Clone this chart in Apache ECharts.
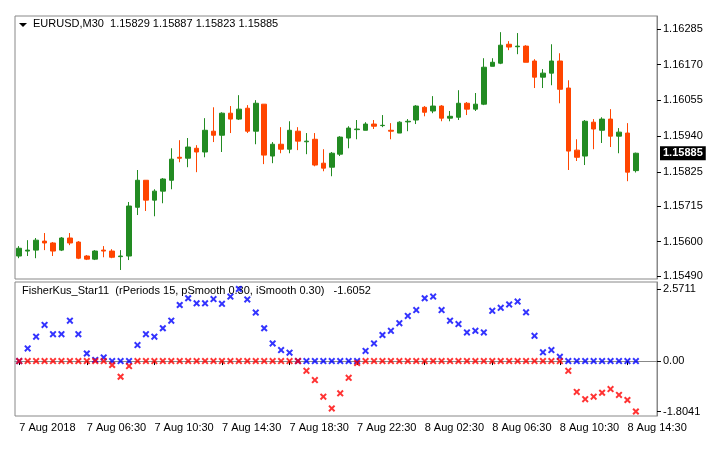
<!DOCTYPE html>
<html>
<head>
<meta charset="utf-8">
<script src="https://cdn.jsdelivr.net/npm/echarts@6/dist/echarts.min.js"></script>
<style>
  html, body { margin: 0; padding: 0; background: #fff; }
  #main { width: 720px; height: 454px; }
</style>
</head>
<body>
<div id="main"></div>
<script>
// open, close, low, high
var candles = [
    [1.15554, 1.15579, 1.15547, 1.15586], [1.15570, 1.15573, 1.15554, 1.15605],
    [1.15573, 1.15605, 1.15547, 1.15612], [1.15602, 1.15596, 1.15573, 1.15628],
    [1.15596, 1.15570, 1.15554, 1.15599], [1.15573, 1.15612, 1.15570, 1.15615],
    [1.15612, 1.15596, 1.15589, 1.15628], [1.15599, 1.15547, 1.15544, 1.15602],
    [1.15554, 1.15544, 1.15541, 1.15557], [1.15544, 1.15570, 1.15541, 1.15573],
    [1.15573, 1.15570, 1.15550, 1.15586], [1.15570, 1.15550, 1.15547, 1.15576],
    [1.15552, 1.15554, 1.15509, 1.15573], [1.15554, 1.15715, 1.15541, 1.15728],
    [1.15711, 1.15798, 1.15686, 1.15831], [1.15798, 1.15734, 1.15699, 1.15798],
    [1.15734, 1.15763, 1.15682, 1.15769], [1.15763, 1.15802, 1.15724, 1.15805],
    [1.15798, 1.15866, 1.15769, 1.15901], [1.15872, 1.15869, 1.15856, 1.15927],
    [1.15869, 1.15905, 1.15840, 1.15934], [1.15901, 1.15889, 1.15824, 1.15911],
    [1.15889, 1.15959, 1.15872, 1.15998], [1.15956, 1.15943, 1.15921, 1.16033],
    [1.15943, 1.16014, 1.15889, 1.16017], [1.16014, 1.15995, 1.15950, 1.16037],
    [1.15995, 1.16027, 1.15992, 1.16072], [1.16030, 1.15956, 1.15950, 1.16040],
    [1.15956, 1.16046, 1.15914, 1.16056], [1.16043, 1.15879, 1.15850, 1.16043],
    [1.15876, 1.15914, 1.15853, 1.15921], [1.15914, 1.15898, 1.15885, 1.15969],
    [1.15898, 1.15959, 1.15885, 1.15988], [1.15956, 1.15924, 1.15895, 1.15969],
    [1.15922, 1.15924, 1.15882, 1.15950], [1.15930, 1.15847, 1.15843, 1.15950],
    [1.15853, 1.15837, 1.15827, 1.15898], [1.15840, 1.15885, 1.15811, 1.15889],
    [1.15882, 1.15937, 1.15876, 1.15940], [1.15934, 1.15966, 1.15901, 1.15972],
    [1.15961, 1.15963, 1.15930, 1.15992], [1.15959, 1.15979, 1.15959, 1.15985],
    [1.15979, 1.15972, 1.15963, 1.15992], [1.15974, 1.15975, 1.15969, 1.16008],
    [1.15959, 1.15956, 1.15930, 1.15982], [1.15950, 1.15985, 1.15950, 1.15988],
    [1.15986, 1.15988, 1.15956, 1.15995], [1.15992, 1.16037, 1.15979, 1.16040],
    [1.16033, 1.16017, 1.16004, 1.16037], [1.16021, 1.16037, 1.16014, 1.16069],
    [1.16037, 1.15998, 1.15988, 1.16040], [1.15998, 1.16004, 1.15988, 1.16021],
    [1.16001, 1.16046, 1.15992, 1.16088], [1.16046, 1.16027, 1.16008, 1.16050],
    [1.16027, 1.16043, 1.16021, 1.16079], [1.16043, 1.16162, 1.16040, 1.16191],
    [1.16165, 1.16178, 1.16165, 1.16191], [1.16175, 1.16233, 1.16172, 1.16275],
    [1.16236, 1.16227, 1.16217, 1.16246], [1.16228, 1.16230, 1.16204, 1.16272],
    [1.16230, 1.16178, 1.16178, 1.16233], [1.16182, 1.16130, 1.16095, 1.16188],
    [1.16130, 1.16143, 1.16095, 1.16156], [1.16143, 1.16182, 1.16104, 1.16236],
    [1.16182, 1.16091, 1.16046, 1.16207], [1.16095, 1.15892, 1.15831, 1.16120],
    [1.15895, 1.15872, 1.15860, 1.15930], [1.15876, 1.15988, 1.15847, 1.15992],
    [1.15985, 1.15963, 1.15898, 1.15995], [1.15959, 1.15995, 1.15918, 1.16001],
    [1.15995, 1.15940, 1.15905, 1.16027], [1.15940, 1.15953, 1.15885, 1.15966],
    [1.15950, 1.15824, 1.15795, 1.15982], [1.15829, 1.15885, 1.15823, 1.15887]
];

var fisher = [
    0, 0.45, 0.87, 1.29, 0.96, 0.96, 1.44, 0.96, 0.27, 0.04,
    0.13, -0.14, -0.56, -0.18, 0.57, 0.96, 0.87, 1.17, 1.44, 2.00,
    2.24, 2.06, 2.06, 2.21, 2.04, 2.30, 2.57, 2.20, 1.73, 1.17,
    0.63, 0.39, 0.30, 0, -0.35, -0.68, -1.27, -1.69, -1.15, -0.60,
    -0.07, 0.36, 0.63, 0.93, 1.08, 1.35, 1.61, 1.82, 2.24, 2.30,
    1.82, 1.44, 1.32, 1.02, 1.08, 1.02, 1.79, 1.90, 2.02, 2.12,
    1.74, 0.90, 0.31, 0.39, 0.15, -0.35, -1.10, -1.36, -1.27, -1.13,
    -1.00, -1.21, -1.39, -1.80
];

var priceTicks = [1.15490, 1.15600, 1.15715, 1.15825, 1.15940, 1.16055, 1.16170, 1.16285];
var fisherTicks = [-1.8041, 0, 2.5711];
var lastPrice = 1.15885;

// bar times: 30 minute bars starting 7 Aug 2018 02:30, plus two empty slots on the right
var categories = [];
for (var i = 0; i < candles.length + 2; i++) {
    var m = 150 + i * 30;
    var day = 7 + Math.floor(m / 1440);
    var mm = m % 1440;
    var hh = Math.floor(mm / 60), mi = mm % 60;
    categories.push(i === 0 ? '7 Aug 2018' :
        day + ' Aug ' + (hh < 10 ? '0' : '') + hh + ':' + (mi < 10 ? '0' : '') + mi);
}

var blue = fisher.map(function (v) { return Math.max(v, 0); });
var red = fisher.map(function (v) { return Math.min(v, 0); });

var cross = 'path://M0,2 L2,0 L5,3 L8,0 L10,2 L7,5 L10,8 L8,10 L5,7 L2,10 L0,8 L3,5 Z';
var font = 'Liberation Sans';

var myChart = echarts.init(document.getElementById('main'));
var option = {
    animation: false,
    backgroundColor: '#fff',
    textStyle: { fontFamily: font },
    graphic: [
        { type: 'polygon', shape: { points: [[19, 23], [27, 23], [23, 27]] }, style: { fill: '#000' } },
        { type: 'text', left: 33, top: 18, style: { text: 'EURUSD,M30  1.15829 1.15887 1.15823 1.15885', font: '11px ' + font, fill: '#000' } },
        { type: 'text', left: 22, top: 285, style: { text: 'FisherKus_Star11  (rPeriods 15, pSmooth 0.30, iSmooth 0.30)   -1.6052', font: '11px ' + font, fill: '#000' } }
    ],
    grid: [
        { left: 15, right: 63, top: 16, height: 263, show: true, borderColor: '#888', borderWidth: 1 },
        { left: 15, right: 63, top: 282, height: 134, show: true, borderColor: '#888', borderWidth: 1 }
    ],
    xAxis: [
        { type: 'category', gridIndex: 0, data: categories, boundaryGap: true,
          axisLine: { show: false }, axisTick: { show: false }, axisLabel: { show: false } },
        { type: 'category', gridIndex: 1, data: categories, boundaryGap: true,
          axisLine: { show: true, lineStyle: { color: '#888' } },
          axisTick: { show: true, interval: 7, alignWithLabel: true, length: 4, lineStyle: { color: '#000' } },
          axisLabel: { interval: 7, color: '#000', fontSize: 11, fontFamily: font, margin: 6, align: 'left' } }
    ],
    yAxis: [
        { type: 'value', gridIndex: 0, position: 'right', min: 1.15480, max: 1.16327, scale: true,
          splitLine: { show: false },
          axisLine: { show: true, lineStyle: { color: '#888' } },
          axisTick: { show: true, length: 4, customValues: priceTicks, lineStyle: { color: '#000' } },
          axisLabel: { customValues: priceTicks, color: '#000', fontSize: 11, fontFamily: font, margin: 6,
                       formatter: function (v) { return v.toFixed(5); } } },
        { type: 'value', gridIndex: 1, position: 'right', min: -1.96, max: 2.82,
          splitLine: { show: false },
          axisLine: { show: true, lineStyle: { color: '#888' } },
          axisTick: { show: true, length: 4, customValues: fisherTicks, lineStyle: { color: '#000' } },
          axisLabel: { customValues: fisherTicks, color: '#000', fontSize: 11, fontFamily: font, margin: 6,
                       formatter: function (v) { return v === 0 ? '0.00' : v.toFixed(4); } } },
        // overlay axis carrying the current price tag
        { type: 'value', gridIndex: 0, position: 'right', min: 1.15480, max: 1.16327, scale: true,
          splitLine: { show: false }, axisLine: { show: false }, axisTick: { show: false },
          axisLabel: { customValues: [lastPrice], color: '#fff', backgroundColor: '#000', padding: [2, 3, 1, 3],
                       fontSize: 11, fontWeight: 'bold', fontFamily: font, margin: 3,
                       formatter: function (v) { return v.toFixed(5); } } }
    ],
    series: [
        {
            type: 'candlestick', xAxisIndex: 0, yAxisIndex: 0, data: candles, barWidth: 5,
            itemStyle: { color: '#228B22', color0: '#FF4500', borderColor: '#228B22', borderColor0: '#FF4500', borderWidth: 1 }
        },
        { type: 'scatter', xAxisIndex: 1, yAxisIndex: 1, data: blue, symbol: cross, symbolSize: 7,
          itemStyle: { color: '#0000FF' } },
        { type: 'scatter', xAxisIndex: 1, yAxisIndex: 1, data: red, symbol: cross, symbolSize: 7,
          itemStyle: { color: '#FF0000' } }
    ]
};
myChart.setOption(option);
</script>
</body>
</html>
